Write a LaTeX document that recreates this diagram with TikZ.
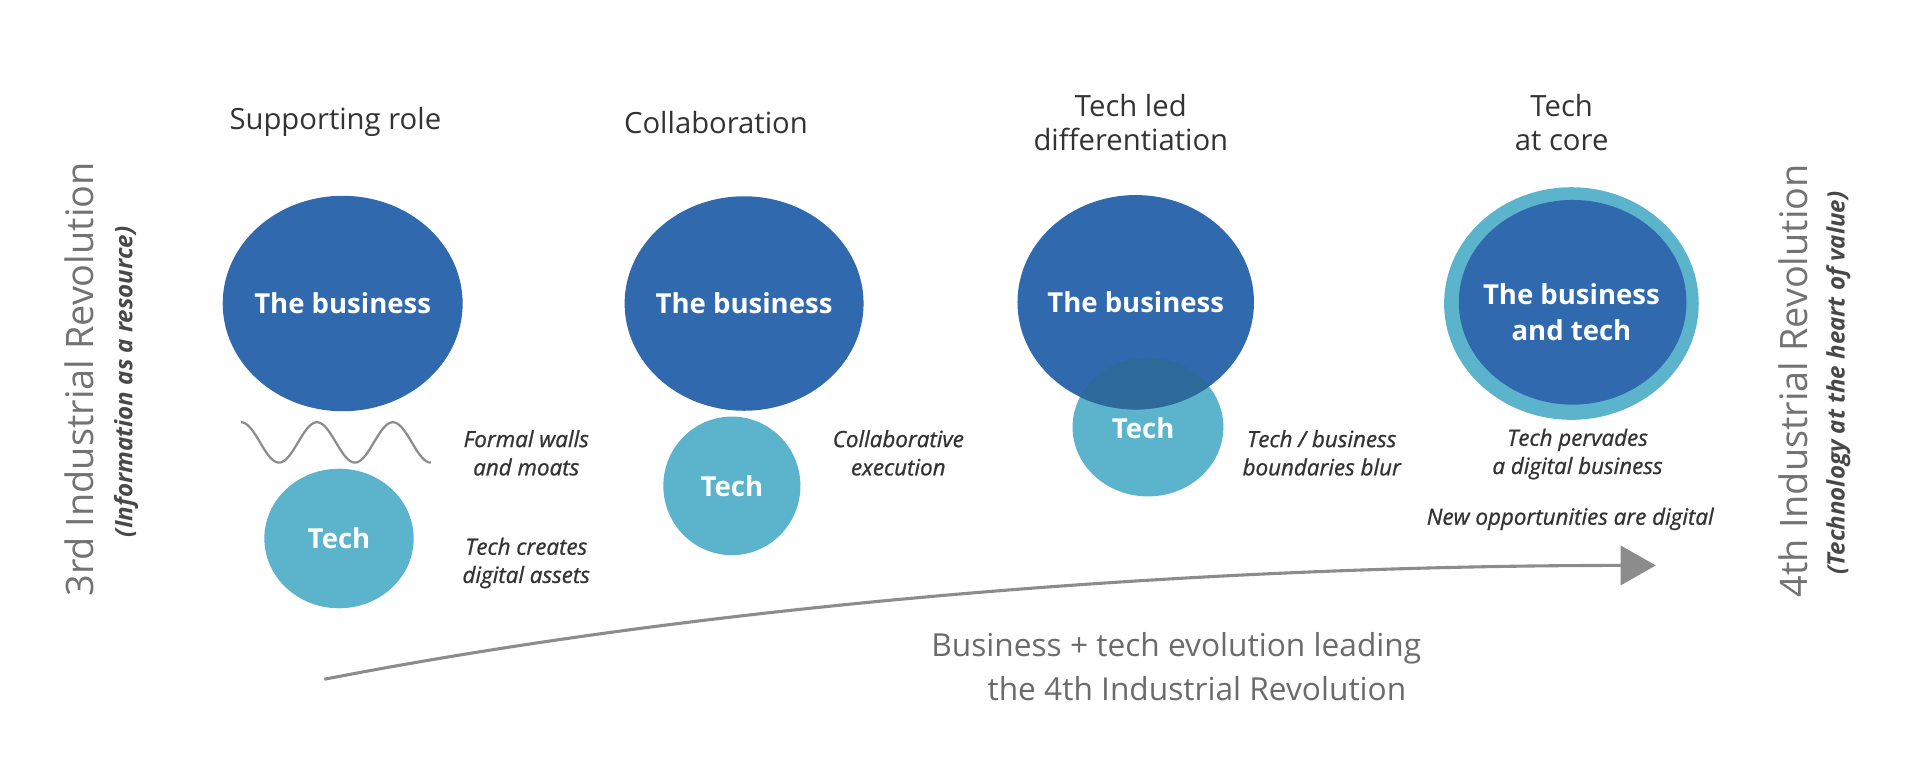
\documentclass[tikz,border=0pt]{standalone}
\usepackage{fontspec}
\setmainfont{Open Sans}
\newfontfamily\semifont{Open Sans}[FakeBold=0.9]
\usetikzlibrary{shapes.geometric,arrows.meta}

\definecolor{bizblue}{HTML}{3069AD}
\definecolor{techteal}{HTML}{5CB4CC}
\definecolor{blendblue}{HTML}{2D6A99}
\definecolor{txtgray}{HTML}{333333}
\definecolor{sidegray}{HTML}{5A5A5A}
\definecolor{linegray}{HTML}{8C8C8C}

\tikzset{
  heading/.style={align=center, text=txtgray, font=\fontsize{17}{19.5}\selectfont},
  blob/.style={ellipse, inner sep=0pt, draw=none},
  bizblob/.style={blob, fill=bizblue},
  techblob/.style={blob, fill=techteal},
  inlabel/.style={align=center, text=white, font=\bfseries\fontsize{16}{21}\selectfont},
  note/.style={align=center, text=txtgray, font=\semifont\itshape\fontsize{13}{16.4}\selectfont},
  sidetitle/.style={rotate=90, text=sidegray!85, font=\fontsize{22}{24}\selectfont},
  sidesub/.style={rotate=90, text=sidegray!80!black, font=\bfseries\itshape\fontsize{14}{16}\selectfont},
  evotext/.style={text=sidegray!90, font=\fontsize{18.4}{22}\selectfont},
}

\begin{document}
\begin{tikzpicture}[x=0.025cm, y=-0.025cm]
  \useasboundingbox (0,0) rectangle (1568,625);

  % side titles
  \node[sidetitle] (rev3) at (65,310) {3rd Industrial Revolution};
  \node[sidesub] (rev3sub) at (103,312) {(Information as a resource)};
  \node[sidetitle] (rev4) at (1465,311) {4th Industrial Revolution};
  \node[sidesub] (rev4sub) at (1502,313) {(Technology at the heart of value)};

  % column headings
  \node[heading] (head1) at (274,100) {Supporting role};
  \node[heading] (head2) at (585,100) {Collaboration};
  \node[heading] (head3) at (924,100) {Tech led\\differentiation};
  \node[heading] (head4) at (1276,100) {Tech\\at core};

  % supporting role
  \node[bizblob, minimum width=4.9cm, minimum height=4.4cm] (biz1) at (280,248) {};
  \node[inlabel] (biz1txt) at (biz1) {The business};
  \draw[linegray, line width=1.3pt] plot[domain=197:352, samples=90, smooth]
    (\x, {361.5-16.5*cos(5.8065*(\x-197))});
  \node[techblob, minimum width=3.05cm, minimum height=2.85cm] (tech1) at (277,440) {};
  \node[inlabel] (tech1txt) at (tech1) {Tech};
  \node[note] (walls) at (430,370) {Formal walls\\and moats};
  \node[note] (assets) at (430,460) {Tech creates\\digital assets};

  % collaboration
  \node[bizblob, minimum width=4.88cm, minimum height=4.38cm] (biz2) at (608,248) {};
  \node[inlabel] (biz2txt) at (biz2) {The business};
  \node[techblob, minimum width=2.8cm, minimum height=2.83cm] (tech2) at (598,397) {};
  \node[inlabel] (tech2txt) at (tech2) {Tech};
  \node[note] (collab) at (734,370) {Collaborative\\execution};

  % tech led differentiation
  \node[techblob, minimum width=3.08cm, minimum height=2.83cm] (tech3) at (938,349) {};
  \node[bizblob, minimum width=4.83cm, minimum height=4.38cm] (biz3) at (928,247) {};
  \begin{scope}
    \clip (928,247) ellipse [x radius=96.5, y radius=87.5];
    \node[blob, fill=blendblue, minimum width=3.08cm, minimum height=2.83cm] (blend3) at (938,349) {};
  \end{scope}
  \node[inlabel] (biz3txt) at (biz3) {The business};
  \node[inlabel] (tech3txt) at (934,350) {Tech};
  \node[note] (blur) at (1080,370) {Tech / business\\boundaries blur};

  % tech at core
  \node[techblob, minimum width=5.2cm, minimum height=4.75cm] (ring4) at (1284,248) {};
  \node[bizblob, minimum width=4.65cm, minimum height=4.18cm] (biz4) at (1285,247) {};
  \node[inlabel] (biz4txt) at (1284,255) {The business\\and tech};
  \node[note] (pervade) at (1289,371) {Tech pervades\\a digital business};
  \node[note] (newopp) at (1283,424) {New opportunities are digital};

  % evolution arrow
  \coordinate (evoStart) at (265,555);
  \coordinate (evoEnd) at (1353,462);
  \draw[linegray, line width=1.8pt, -{Triangle[length=0.72cm, width=0.8cm]}]
    (evoStart) .. controls (600,490) and (1000,462) .. (evoEnd);
  \node[evotext, anchor=west] (evo1) at (756,530) {Business + tech evolution leading};
  \node[evotext] (evo2) at (978,563) {the 4th Industrial Revolution};
\end{tikzpicture}
\end{document}
